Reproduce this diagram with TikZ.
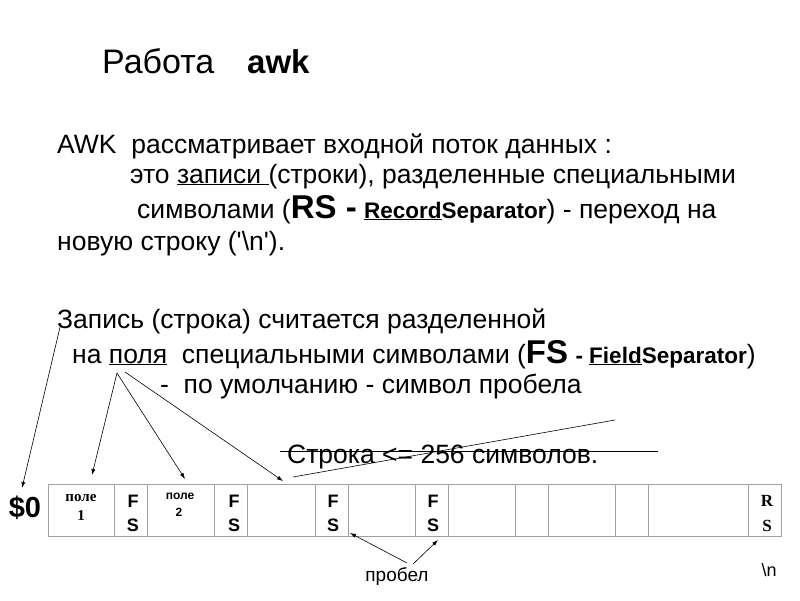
\documentclass[tikz,border=0pt]{standalone}
\usepackage{fontspec}
\setmainfont{Liberation Sans}
\newfontfamily\timesf{Liberation Serif}
\usetikzlibrary{arrows.meta}
\definecolor{cellgray}{HTML}{A0A0A0}
\begin{document}
\begin{tikzpicture}[x=1pt,y=-1pt,
  txt/.style={anchor=base west, inner sep=0, font=\fontsize{26.5}{30}\selectfont},
  cell/.style={draw=cellgray, line width=1.3pt, minimum height=52.5pt, inner sep=0, anchor=north west},
  arr/.style={-{Latex[length=6pt,width=4pt]}, line width=0.6pt},
  plainline/.style={line width=0.6pt},
  fsl/.style={inner sep=0, font=\fontsize{18}{18}\selectfont\bfseries},
  rsl/.style={inner sep=0, font=\timesf\fontsize{17}{17}\selectfont\bfseries},
  pserif/.style={inner sep=0, font=\timesf\fontsize{15}{15}\selectfont\bfseries},
  psans/.style={inner sep=0, font=\fontsize{12}{12}\selectfont\bfseries}]
\useasboundingbox (0,0) rectangle (800,600);

% title
\node[anchor=base west, inner sep=0, font=\fontsize{34}{34}\selectfont] (title) at (102,73) {Работа};
\node[anchor=base west, inner sep=0, font=\fontsize{33}{34}\selectfont\bfseries] (awk) at (247,73) {awk};

% body text
\node[txt] (l1) at (57,153) {AWK\ \ рассматривает входной поток данных :};
\node[txt] (l2) at (130,183) {это \underline{записи\ }(строки), разделенные специальными};
\node[txt] (l3) at (137,218) {символами ({\fontsize{33}{33}\selectfont\bfseries RS -} {\fontsize{22.5}{22.5}\selectfont\bfseries\underline{Record}Separator}) - переход на};
\node[txt] (l4) at (57,250) {новую строку (\textquotesingle\textbackslash n\textquotesingle).};
\node[txt] (l5) at (57,328) {Запись (строка) считается разделенной};
\node[txt] (l6) at (72,363) {на \underline{поля}\ \ специальными символами ({\fontsize{33}{33}\selectfont\bfseries FS} {\fontsize{22.5}{22.5}\selectfont\bfseries - \underline{Field}Separator})};
\node[txt] (l7) at (160,393) {-\ \ по умолчанию - символ пробела};
\node[txt] (l8) at (287,463) {Строка <= 256 символов.};

% table
\foreach \n/\l/\w in {1/48/66, 2/114/33, 3/147/67, 4/214/33, 5/247/68, 6/315/33, 7/348/67, 8/415/33, 9/448/67, 10/515/33, 11/548/67, 12/615/33, 13/648/100, 14/748/33}
  \node[cell, minimum width=\w pt] (c\n) at (\l,483.5) {};

\node[font=\bfseries\fontsize{29}{29}\selectfont, inner sep=0] (dollar) at (25,508) {\$0};

\node[pserif] (p1a) at (81,498) {поле};
\node[pserif] (p1b) at (81,516) {1};
\node[fsl] (f2a) at (133,501.5) {F};
\node[fsl] (f2b) at (133,525) {S};
\node[psans] (p3a) at (180,496) {поле};
\node[psans] (p3b) at (179,512.5) {2};
\node[fsl] (f4a) at (234,501.5) {F};
\node[fsl] (f4b) at (234,525) {S};
\node[fsl] (f6a) at (333,501.5) {F};
\node[fsl] (f6b) at (333,525) {S};
\node[fsl] (f8a) at (433,501.5) {F};
\node[fsl] (f8b) at (433,525) {S};
\node[rsl] (r14a) at (767,501) {R};
\node[rsl] (r14b) at (767,526) {S};

\node[inner sep=0, font=\fontsize{19}{19}\selectfont] (probel) at (397,576) {пробел};
\node[inner sep=0, font=\fontsize{18}{18}\selectfont] (nl) at (769,570) {\textbackslash n};

% connector end points
\coordinate (zap) at (61,323);
\coordinate (d0) at (22,488);
\coordinate (pa) at (117,373);
\coordinate (pb) at (125,372);
\coordinate (t1) at (92,475);
\coordinate (t3) at (185,479);
\coordinate (t5) at (283,481);
\coordinate (sA) at (615,420);
\coordinate (sB) at (293,477);
\coordinate (kA) at (280,451);
\coordinate (kB) at (658,451);
\coordinate (pr1) at (407,563);
\coordinate (pr2) at (413,564);
\coordinate (g6) at (350,533);
\coordinate (g8) at (438,540);

\draw[arr] (zap) -- (d0);
\draw[arr] (pa) -- (t1);
\draw[arr] (pa) -- (t3);
\draw[arr] (pb) -- (t5);
\draw[plainline] (sA) -- (sB);
\draw[plainline] (kA) -- (kB);
\draw[arr] (pr1) -- (g6);
\draw[arr] (pr2) -- (g8);
\end{tikzpicture}
\end{document}
